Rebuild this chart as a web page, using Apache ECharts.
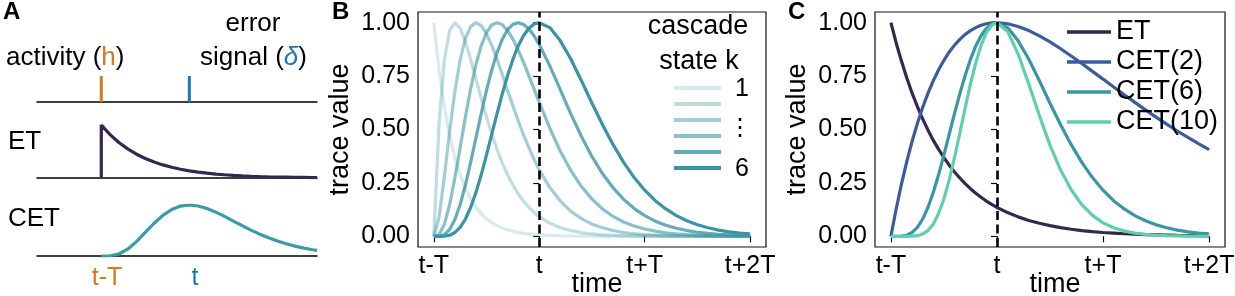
<!DOCTYPE html>
<html>
<head>
<meta charset="utf-8">
<script src="https://cdn.jsdelivr.net/npm/echarts@6/dist/echarts.min.js"></script>
<style>
body { margin: 0; background: #fff; }
#chart { width: 1235px; height: 296px; }
</style>
</head>
<body>
<div id="chart"></div>
<script>
// time axis, in units of T relative to t (so -1 = t-T, 0 = t)
var times = [-1, -0.95, -0.9, -0.85, -0.8, -0.75, -0.7, -0.65, -0.6, -0.55, -0.5, -0.45, -0.4, -0.35, -0.3, -0.25, -0.2, -0.15, -0.1, -0.05,
	0, 0.1, 0.2, 0.3, 0.4, 0.5, 0.6, 0.7, 0.8, 0.9, 1, 1.1, 1.2, 1.3, 1.4, 1.5, 1.6, 1.7, 1.8, 1.9, 2];

// panel B : cascade states 1..6
var stateK1 = [1, .779, .607, .472, .368, .287, .223, .174, .135, .105, .082, .064, .050, .039, .030, .024, .018, .014, .011, .009, .007,
	.004, .002, .0015, .001, .0006, 0, 0, 0, 0, 0, 0, 0, 0, 0, 0, 0, 0, 0, 0, 0];
var stateK2 = [0, .529, .824, .963, 1, .974, .910, .827, .736, .645, .558, .478, .406, .343, .287, .240, .199, .165, .136, .112, .092,
	.061, .040, .027, .017, .011, .007, .005, .003, .002, .001, .001, 0, 0, 0, 0, 0, 0, 0, 0, 0];
var stateK3 = [0, .090, .280, .491, .680, .827, .927, .983, 1, .986, .948, .893, .828, .757, .683, .611, .541, .476, .416, .361, .311,
	.228, .165, .117, .083, .057, .040, .027, .018, .012, .008, .006, .004, .0025, .0016, .001, .0006, .0004, .0002, .0001, 0];
var stateK4 = [0, .009, .056, .148, .274, .416, .560, .693, .805, .893, .954, .989, 1, .990, .963, .923, .872, .815, .753, .690, .627,
	.506, .398, .307, .233, .174, .128, .093, .067, .048, .034, .024, .0165, .0115, .0079, .0054, .0037, .0025, .0017, .0011, .0008];
var stateK5 = [0, .0007, .008, .032, .079, .149, .241, .348, .462, .576, .684, .780, .860, .923, .967, .992, 1, .992, .972, .939, .898,
	.798, .685, .572, .467, .373, .293, .227, .173, .130, .097, .071, .052, .038, .027, .019, .014, .0097, .0068, .0048, .0033];
var stateK6 = [0, 0, .001, .005, .018, .042, .081, .136, .206, .289, .381, .478, .575, .668, .753, .828, .891, .939, .973, .994, 1,
	.977, .915, .829, .728, .623, .522, .429, .346, .275, .216, .167, .128, .097, .073, .054, .040, .029, .021, .015, .011];

// panel C : ET vs CET(k)
var traceET = [1, .905, .819, .741, .670, .607, .549, .497, .449, .407, .368, .333, .301, .273, .247, .223, .202, .183, .165, .150, .135,
	.111, .091, .074, .061, .050, .041, .033, .027, .022, .018, .015, .012, .010, .008, .007, .006, .0045, .0037, .003, .0025];
var traceCET2 = [0, .129, .246, .351, .445, .529, .604, .670, .729, .780, .824, .863, .895, .922, .945, .963, .977, .988, .995, .999, 1,
	.995, .982, .963, .938, .910, .878, .844, .809, .772, .736, .699, .663, .627, .592, .558, .525, .493, .463, .434, .406];
var traceCET6 = [0, 0, .001, .005, .018, .042, .081, .136, .206, .289, .381, .478, .575, .668, .753, .828, .891, .939, .973, .994, 1,
	.977, .915, .829, .728, .623, .522, .429, .346, .275, .216, .167, .128, .097, .073, .054, .040, .029, .021, .015, .011];
var traceCET10 = [0, 0, 0, 0, .001, .003, .011, .027, .058, .107, .176, .264, .369, .483, .600, .712, .812, .894, .953, .988, 1,
	.959, .853, .713, .565, .427, .310, .218, .148, .098, .063, .040, .025, .015, .009, .005, .003, .002, .001, .0005, .0003];

// panel A : schematic
var timesA = [-1, -0.9, -0.8, -0.7, -0.6, -0.5, -0.4, -0.3, -0.2, -0.1, 0, 0.1, 0.2, 0.3, 0.4, 0.5, 0.6, 0.7, 0.8, 0.9, 1, 1.1, 1.2, 1.3, 1.4, 1.45];
var schemET = [1, .819, .670, .549, .449, .368, .301, .247, .202, .165, .135, .111, .091, .074, .061, .050, .041, .033, .027, .022, .018, .015, .012, .010, .008, .0075];
var schemCET = [0, .004, .039, .133, .282, .462, .642, .797, .912, .979, 1, .981, .932, .860, .776, .685, .595, .508, .428, .356, .293, .239, .193, .154, .123, .109];
var activityTime = -1;
var errorTime = 0;

var tickTimes = [-1, 0, 1, 2];
var tickNames = ['t-T', 't', 't+T', 't+2T'];
var valueTicks = [0, 0.25, 0.5, 0.75, 1];

var stateNames = ['k1', 'k2', 'k3', 'k4', 'k5', 'k6'];
var stateData = [stateK1, stateK2, stateK3, stateK4, stateK5, stateK6];
var stateAlpha = [0.2, 0.33, 0.47, 0.6, 0.78, 1];
var cetNames = ['ET', 'CET(2)', 'CET(6)', 'CET(10)'];
var cetData = [traceET, traceCET2, traceCET6, traceCET10];
var cetColors = ['#35284f', '#3b5b9e', '#3a96a6', '#5fcfac'];

var FONT = 'Liberation Sans';
var ORANGE = '#d9771c';
var BLUE = '#1b78b6';

function pairs(xs, ys) {
	var out = [];
	for (var i = 0; i < xs.length; i++) {
		out.push([xs[i], ys[i]]);
	}
	return out;
}

function schemAxis(idx) {
	return {
		type: 'value', gridIndex: idx, min: -1.73, max: 1.45,
		axisLine: { show: true, lineStyle: { color: '#000', width: 1.5 } },
		axisTick: { show: false }, axisLabel: { show: false }, splitLine: { show: false }
	};
}
function hiddenY(idx) {
	return { type: 'value', gridIndex: idx, min: 0, max: 1, show: false, splitLine: { show: false } };
}
function timeAxis(idx) {
	return {
		type: 'value', gridIndex: idx, min: -1.15, max: 2.15,
		name: 'time', nameLocation: 'middle', nameGap: 24, nameMoveOverlap: false,
		nameTextStyle: { fontFamily: FONT, fontSize: 27, color: '#000', padding: [0, 0, 0, 10] },
		axisLine: { show: false },
		axisTick: { show: true, length: 6, customValues: tickTimes, lineStyle: { color: '#000', width: 1.2 } },
		axisLabel: {
			customValues: tickTimes, margin: 7, fontFamily: FONT, fontSize: 25, color: '#000',
			formatter: function(v) { return tickNames[tickTimes.indexOf(v)]; }
		},
		splitLine: { show: false }
	};
}
function traceAxis(idx) {
	return {
		type: 'value', gridIndex: idx, min: -0.05, max: 1.05,
		name: 'trace value', nameLocation: 'middle', nameGap: 64, nameRotate: 90, nameMoveOverlap: false,
		nameTextStyle: { fontFamily: FONT, fontSize: 27, color: '#000' },
		axisLine: { show: false },
		axisTick: { show: true, length: 6, customValues: valueTicks, lineStyle: { color: '#000', width: 1.2 } },
		axisLabel: {
			customValues: valueTicks, margin: 8, fontFamily: FONT, fontSize: 25, color: '#000',
			formatter: function(v) { return v.toFixed(2); }
		},
		splitLine: { show: false }
	};
}

var series = [];
// A row 1: impulses
series.push({ name: 'activity', type: 'line', xAxisIndex: 0, yAxisIndex: 0, symbol: 'none', silent: true,
	data: [[activityTime, 0], [activityTime, 1]], lineStyle: { color: ORANGE, width: 3 } });
series.push({ name: 'error', type: 'line', xAxisIndex: 0, yAxisIndex: 0, symbol: 'none', silent: true,
	data: [[errorTime, 0], [errorTime, 1]], lineStyle: { color: BLUE, width: 3 } });
// A row 2 / 3
series.push({ name: 'ET schematic', type: 'line', xAxisIndex: 1, yAxisIndex: 1, symbol: 'none', silent: true,
	data: [[timesA[0], 0]].concat(pairs(timesA, schemET)), lineStyle: { color: '#35284f', width: 3.2 } });
series.push({ name: 'CET schematic', type: 'line', xAxisIndex: 2, yAxisIndex: 2, symbol: 'none', silent: true,
	data: pairs(timesA, schemCET), lineStyle: { color: '#3a9aa6', width: 3.2 } });

// B
for (var i = 0; i < stateData.length; i++) {
	var c = 'rgba(58,148,164,' + stateAlpha[i] + ')';
	series.push({ name: stateNames[i], type: 'line', xAxisIndex: 3, yAxisIndex: 3, symbol: 'none',
		data: pairs(times, stateData[i]), lineStyle: { color: c, width: 3.2 }, itemStyle: { color: c } });
}
// C
for (var j = 0; j < cetData.length; j++) {
	series.push({ name: cetNames[j], type: 'line', xAxisIndex: 4, yAxisIndex: 4, symbol: 'none',
		data: pairs(times, cetData[j]), lineStyle: { color: cetColors[j], width: 3.2 }, itemStyle: { color: cetColors[j] } });
}
// dashed line at t
[3, 4].forEach(function(g) {
	series.push({ name: 'at t ' + g, type: 'line', xAxisIndex: g, yAxisIndex: g, data: [], z: 5, silent: true,
		markLine: { symbol: ['none', 'none'], silent: true, animation: false, label: { show: false },
			lineStyle: { color: '#000', width: 2.6, type: [9, 4.5] }, data: [{ xAxis: 0 }] } });
});

function txt(x, y, s, size, align, extra) {
	var st = { text: s, fontFamily: FONT, fontSize: size, fill: '#000', textAlign: align, textVerticalAlign: 'middle' };
	for (var k in extra) st[k] = extra[k];
	return { type: 'text', x: x, y: y, style: st, silent: true };
}

option = {
	animation: false,
	backgroundColor: '#fff',
	grid: [
		{ left: 37, top: 76, width: 280, height: 26, outerBoundsMode: 'none' },
		{ left: 37, top: 125, width: 280, height: 53, outerBoundsMode: 'none' },
		{ left: 37, top: 205, width: 280, height: 51, outerBoundsMode: 'none' },
		{ left: 418, top: 12, width: 348, height: 235, show: true, borderColor: '#111', borderWidth: 1.2, outerBoundsMode: 'none' },
		{ left: 875, top: 12, width: 350, height: 235, show: true, borderColor: '#111', borderWidth: 1.2, outerBoundsMode: 'none' }
	],
	xAxis: [schemAxis(0), schemAxis(1), schemAxis(2), timeAxis(3), timeAxis(4)],
	yAxis: [hiddenY(0), hiddenY(1), hiddenY(2), traceAxis(3), traceAxis(4)],
	legend: [
		{
			// labels "1", ":" and "6" are drawn as graphic text beside these swatches
			data: stateNames, orient: 'vertical', left: 674, top: 86, padding: 0, itemGap: 12,
			icon: 'rect', itemWidth: 47, itemHeight: 4, selectedMode: false,
			formatter: function() { return ''; }
		},
		{
			data: cetNames, orient: 'vertical', left: 1067, top: 17, padding: 0, itemGap: 0,
			icon: 'rect', itemWidth: 44, itemHeight: 3.5, selectedMode: false,
			textStyle: { fontFamily: FONT, fontSize: 27, lineHeight: 30, color: '#000' }
		}
	],
	graphic: [
		txt(3, 12, 'A', 24, 'left', { fontWeight: 'bold' }),
		txt(332, 12, 'B', 24, 'left', { fontWeight: 'bold' }),
		txt(788, 12, 'C', 24, 'left', { fontWeight: 'bold' }),
		{ type: 'text', x: 6, y: 58, silent: true, style: {
			text: '{a|activity (}{h|h}{a|)}', textVerticalAlign: 'middle',
			rich: { a: { fontFamily: FONT, fontSize: 26, fill: '#000' }, h: { fontFamily: FONT, fontSize: 26, fill: ORANGE } } } },
		txt(253, 24, 'error', 26, 'center'),
		{ type: 'text', x: 200, y: 58, silent: true, style: {
			text: '{a|signal (}{d|δ}{a|)}', textVerticalAlign: 'middle',
			rich: { a: { fontFamily: FONT, fontSize: 26, fill: '#000' }, d: { fontFamily: FONT, fontSize: 26, fontStyle: 'italic', fill: BLUE } } } },
		txt(8, 142, 'ET', 26, 'left'),
		txt(8, 219, 'CET', 26, 'left'),
		txt(107, 278, 't-T', 25, 'center', { fill: ORANGE }),
		txt(195, 278, 't', 25, 'center', { fill: BLUE }),
		txt(698, 27, 'cascade', 27, 'center'),
		txt(699, 62, 'state k', 27, 'center'),
		txt(742, 89, '1', 25, 'center'),
		txt(740, 129, '⋮', 24, 'center', { fontFamily: 'DejaVu Sans' }),
		txt(742, 169, '6', 25, 'center')
	],
	series: series
};

var chart = echarts.init(document.getElementById('chart'));
chart.setOption(option);
</script>
</body>
</html>
